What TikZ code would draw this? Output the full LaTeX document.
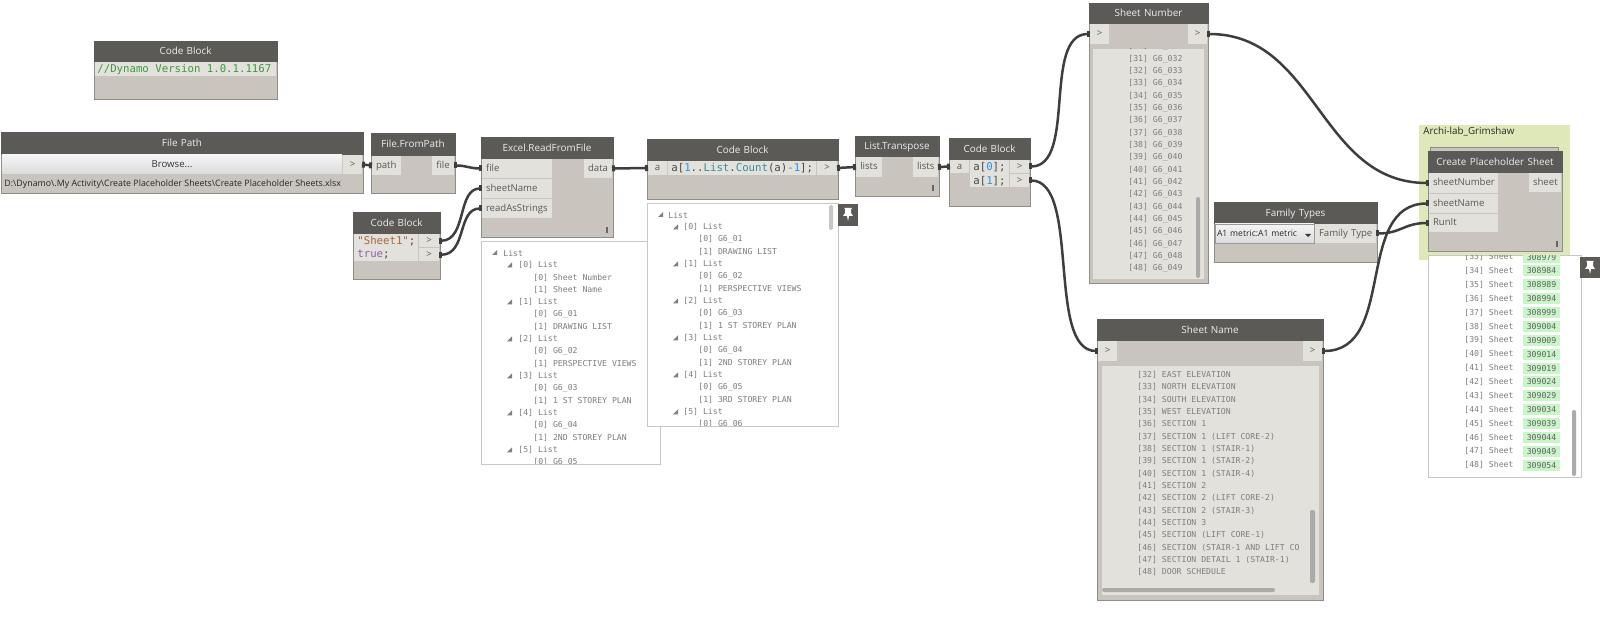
\documentclass[tikz,border=0pt]{standalone}
\usepackage{fontspec}
\setmainfont{Open Sans}
\setmonofont{DejaVu Sans Mono}
\usetikzlibrary{arrows.meta}

\definecolor{headgrey}{HTML}{5C5A57}
\definecolor{bodygrey}{HTML}{C9C5BE}
\definecolor{edgegrey}{HTML}{8F8D87}
\definecolor{portgrey}{HTML}{E3E1DC}
\definecolor{wiregrey}{HTML}{3E3E3E}
\definecolor{watchtext}{HTML}{7E7E7E}
\definecolor{groupgreen}{HTML}{DFE8B9}
\definecolor{valuegreen}{HTML}{C9F5C9}
\definecolor{codegreen}{HTML}{3C9A3C}
\definecolor{codebrown}{HTML}{A5683C}
\definecolor{codepurple}{HTML}{8C5FAE}
\definecolor{codeblue}{HTML}{2F90E0}
\definecolor{codeteal}{HTML}{3A8E9C}

% box given by its corners in reference pixels
\newcommand{\pxbox}[7]{\node[#1,anchor=north west,outer sep=0pt,inner xsep=2pt,inner ysep=0pt,
	minimum height={(#6-#4)*0.5},text width={(#5-#3)*0.5-4}] (#2) at (#3,#4) {#7};}
% node body and title bar
\newcommand{\dynbox}[7]{\pxbox{bodybox}{#1}{#2}{#3}{#4}{#5}{}
	\pxbox{headbox}{#1head}{#2}{#3}{#4}{#6}{#7}}
% pin button of a preview
\newcommand{\pinmark}[2]{\fill[white] (#1-4,#2-6) -- (#1+4,#2-6) -- (#1+3,#2-5) -- (#1+3,#2-1) -- (#1+5,#2+2)
	-- (#1+1,#2+2) -- (#1,#2+7) -- (#1-1,#2+2) -- (#1-5,#2+2) -- (#1-3,#2-1) -- (#1-3,#2-5) -- cycle;}

\tikzset{
	bodybox/.style={draw=edgegrey,fill=bodygrey,line width=0.5pt},
	headbox/.style={draw=headgrey,line width=0.5pt,fill=headgrey,text=white!93!black,align=center,
		font=\fontsize{4.95}{6}\selectfont,text height=3.8pt,text depth=1pt},
	portbox/.style={fill=portgrey,text=black!65,align=left,font=\fontsize{4.8}{6}\selectfont,
		text height=3.8pt,text depth=1pt},
	portmid/.style={portbox,align=center},
	buttonbox/.style={portbox,top color=white!96!black,bottom color=black!14,text=black!80},
	codebox/.style={fill=portgrey},
	codetext/.style={anchor=west,inner sep=0pt,text=black!72,font=\ttfamily\fontsize{5.35}{6}\selectfont},
	watchbox/.style={draw=black!22,fill=white,line width=0.5pt},
	innerbox/.style={fill=portgrey},
	listtext/.style={anchor=west,inner sep=0pt,text=watchtext,font=\ttfamily\fontsize{4.08}{5}\selectfont},
	scrollbar/.style={fill=black!33,rounded corners=1pt},
	wire/.style={draw=wiregrey,line width=1.25pt,{Square[length=1.5pt,width=3pt]}-{Square[length=1.5pt,width=3pt]}},
}

\begin{document}
\begin{tikzpicture}[x=0.5pt,y=-0.5pt]
	\useasboundingbox (0,0) rectangle (1600,641);
	
	% Version note
	\dynbox{version}{94}{42}{277}{100}{62}{Code Block}
	\pxbox{codebox}{versionrow}{95}{62}{276}{76}{}
	\node[codetext,text=codegreen] (versiontext) at (97,69.5) {//Dynamo Version 1.0.1.1167};
	
	% File path input
	\dynbox{filepath}{1}{133}{363}{194}{155}{File Path}
	\pxbox{buttonbox,align=center}{browse}{2}{155}{342}{174}{Browse...}
	\pxbox{portmid}{filepathout}{343}{155}{362}{174}{>}
	\node[anchor=west,inner sep=0pt,text=black!85,font=\fontsize{4.42}{6}\selectfont] (pathtext) at (4,184.5)
		{D:\textbackslash Dynamo\textbackslash .My Activity\textbackslash Create Placeholder Sheets\textbackslash Create Placeholder Sheets.xlsx};
	
	\dynbox{frompath}{371}{134}{455}{194}{156}{File.FromPath}
	\pxbox{portbox}{frompathin}{372}{156}{401}{175}{path}
	\pxbox{portmid}{frompathout}{432}{156}{454}{175}{file}
	
	% Sheet name and flag
	\dynbox{inputs}{353}{213}{440}{280}{234}{Code Block}
	\pxbox{codebox}{inputsrow}{354}{234}{418}{261}{}
	\pxbox{portmid}{inputsouta}{419}{234}{439}{247.5}{>}
	\pxbox{portmid}{inputsoutb}{419}{248.5}{439}{261}{>}
	\node[codetext,text=codebrown] (inputsa) at (357,241) {"Sheet1"\textcolor{black!72}{;}};
	\node[codetext,text=codepurple] (inputsb) at (357,254.5) {true\textcolor{black!72}{;}};
	
	% Preview under the excel node
	\pxbox{watchbox}{watchexcel}{481}{242}{660}{464}{}
	\begin{scope}
		\clip (481,242) rectangle (660,463);
		\foreach \lev/\txt [count=\n from 0] in {0/List,1/{[0] List},2/{[0] Sheet Number},2/{[1] Sheet Name},
			1/{[1] List},2/{[0] G6\_01},2/{[1] DRAWING LIST},1/{[2] List},2/{[0] G6\_02},2/{[1] PERSPECTIVE VIEWS},
			1/{[3] List},2/{[0] G6\_03},2/{[1] 1 ST STOREY PLAN},1/{[4] List},2/{[0] G6\_04},2/{[1] 2ND STOREY PLAN},
			1/{[5] List},2/{[0] G6\_05}}
		{
			\node[listtext] (watchexcel\n) at (503+\lev*15,253+\n*12.33) {\txt};
			\ifnum\lev<2
			\fill[black!50] (492+\lev*15,255+\n*12.33) -- ++(5,0) -- ++(0,-5) -- cycle;
			\fi
		}
	\end{scope}
	
	% Excel reader
	\dynbox{excel}{481}{138}{613}{238}{159}{Excel.ReadFromFile}
	\pxbox{portbox}{excelfile}{482}{159}{552}{178}{file}
	\pxbox{portbox}{excelsheet}{482}{179}{552}{198}{sheetName}
	\pxbox{portbox}{excelread}{482}{199}{552}{218}{readAsStrings}
	\pxbox{portmid}{exceldata}{584}{159}{612}{178}{data}
	
	% Slice of the rows
	\dynbox{slice}{647}{140}{838}{200}{161}{Code Block}
	\pxbox{portmid}{slicein}{648}{161}{667}{175}{a}
	\pxbox{codebox}{slicerow}{668}{161}{816}{175}{}
	\pxbox{portmid}{sliceout}{817}{161}{837}{175}{>}
	\node[codetext] (slicetext) at (671,168.5) {a[\textcolor{codeblue}{1}..\textcolor{codeteal}{List}.\textcolor{codeteal}{Count}(a)\textcolor{codeblue}{-1}];};
	
	% Preview under the slice
	\pxbox{watchbox}{watchslice}{647}{204}{838}{426}{}
	\begin{scope}
		\clip (647,204) rectangle (838,425);
		\foreach \lev/\txt [count=\n from 0] in {0/List,1/{[0] List},2/{[0] G6\_01},2/{[1] DRAWING LIST},
			1/{[1] List},2/{[0] G6\_02},2/{[1] PERSPECTIVE VIEWS},1/{[2] List},2/{[0] G6\_03},2/{[1] 1 ST STOREY PLAN},
			1/{[3] List},2/{[0] G6\_04},2/{[1] 2ND STOREY PLAN},1/{[4] List},2/{[0] G6\_05},2/{[1] 3RD STOREY PLAN},
			1/{[5] List},2/{[0] G6\_06}}
		{
			\node[listtext] (watchslice\n) at (668+\lev*15,215+\n*12.33) {\txt};
			\ifnum\lev<2
			\fill[black!50] (658+\lev*15,217+\n*12.33) -- ++(5,0) -- ++(0,-5) -- cycle;
			\fi
		}
	\end{scope}
	\fill[scrollbar,black!22] (829,205) rectangle (833,230);
	\pxbox{fill=headgrey}{pinslice}{838}{204}{858}{226}{}
	\pinmark{848}{214}
	
	% Transpose
	\dynbox{transpose}{855}{137}{939}{197}{157}{List.Transpose}
	\pxbox{portmid}{transposein}{856}{157}{882}{177}{lists}
	\pxbox{portmid}{transposeout}{913}{157}{938}{177}{lists}
	
	% Split into the two columns
	\dynbox{split}{949}{139}{1030}{207}{160}{Code Block}
	\pxbox{portmid}{splitin}{950}{160}{969}{173}{a}
	\pxbox{codebox}{splitrow}{970}{160}{1009}{187}{}
	\pxbox{portmid}{splitouta}{1010}{160}{1029}{173}{>}
	\pxbox{portmid}{splitoutb}{1010}{174}{1029}{187}{>}
	\node[codetext] (splita) at (973,167) {a[\textcolor{codeblue}{0}];};
	\node[codetext] (splitb) at (973,181) {a[\textcolor{codeblue}{1}];};
	
	% Sheet numbers
	\dynbox{sheetno}{1089}{4}{1208}{284}{24}{Sheet Number}
	\pxbox{portmid}{sheetnoin}{1090}{24}{1109}{44}{>}
	\pxbox{portmid}{sheetnoout}{1188}{24}{1207}{44}{>}
	\pxbox{innerbox}{sheetnolist}{1093}{49}{1204}{279}{}
	\begin{scope}
		\clip (1093,49) rectangle (1204,279);
		\foreach \i in {30,...,48}
		{
			\pgfmathtruncatemacro{\num}{\i+1}
			\node[listtext] (sheetno\i) at (1128,59+\i*12.33-31*12.33) {[\i] G6\_0\num};
		}
	\end{scope}
	\fill[scrollbar] (1196,197) rectangle (1200,278);
	
	% Sheet names
	\dynbox{sheetname}{1097}{320}{1323}{600}{341}{Sheet Name}
	\pxbox{portmid}{sheetnamein}{1098}{341}{1117}{361}{>}
	\pxbox{portmid}{sheetnameout}{1303}{341}{1322}{361}{>}
	\pxbox{innerbox}{sheetnamelist}{1102}{366}{1319}{595}{}
	\foreach \txt [count=\n from 32] in {EAST ELEVATION,NORTH ELEVATION,SOUTH ELEVATION,WEST ELEVATION,SECTION 1,
		SECTION 1 (LIFT CORE-2),SECTION 1 (STAIR-1),SECTION 1 (STAIR-2),SECTION 1 (STAIR-4),SECTION 2,
		SECTION 2 (LIFT CORE-2),SECTION 2 (STAIR-3),SECTION 3,SECTION (LIFT CORE-1),SECTION (STAIR-1 AND LIFT CO,
		SECTION DETAIL 1 (STAIR-1),DOOR SCHEDULE}
	{
		\node[listtext] (sheetname\n) at (1137,375+\n*12.33-32*12.33) {[\n] \txt};
	}
	\fill[scrollbar] (1310,510) rectangle (1315,583);
	\fill[scrollbar] (1102,588) rectangle (1275,592);
	
	% Family type
	\dynbox{family}{1214}{203}{1377}{263}{224}{Family Types}
	\pxbox{buttonbox,draw=black!40,line width=0.4pt,text=black!85,font=\fontsize{4.3}{6}\selectfont}{familydrop}{1215}{224}{1314}{243}{\mbox{\hspace*{-1pt}A1 metric:A1 metric}}
	\pxbox{portbox}{familyout}{1315}{224}{1376}{243}{\mbox{Family Type}}
	\fill[black!80] (1305,234) -- ++(6,0) -- ++(-3,3) -- cycle;
	
	% Custom node group
	\pxbox{fill=groupgreen,draw=none}{group}{1419}{125}{1570}{260}{}
	\node[anchor=west,inner sep=0pt,text=black!85,font=\fontsize{4.9}{6}\selectfont] (grouptitle) at (1423,132) {Archi-lab\_Grimshaw};
	\pxbox{bodybox}{placerback}{1430}{148}{1558}{156}{}
	\dynbox{placer}{1428}{152}{1562}{252}{173}{Create Placeholder Sheet}
	\pxbox{portbox}{placernum}{1429}{173}{1498}{193}{sheetNumber}
	\pxbox{portbox}{placername}{1429}{194}{1498}{213}{sheetName}
	\pxbox{portbox}{placerrun}{1429}{214}{1498}{232}{RunIt}
	\pxbox{portmid}{placerout}{1529}{173}{1561}{192}{sheet}
	
	% Preview of the created sheets
	\pxbox{watchbox}{watchplacer}{1428}{256}{1581}{477}{}
	\begin{scope}
		\clip (1428,256) rectangle (1581,477);
		\foreach \i in {33,...,48}
		{
			\pgfmathtruncatemacro{\val}{8984+5*(\i-34)}
			\fill[valuegreen] (1523,265.5+\i*13.87-34*13.87) rectangle (1560,276.5+\i*13.87-34*13.87);
			\node[listtext] (placer\i) at (1464,271+\i*13.87-34*13.87) {[\i] Sheet};
			\node[listtext,anchor=center,text=black!62] (value\i) at (1541.5,271+\i*13.87-34*13.87) {30\val};
		}
	\end{scope}
	\fill[scrollbar] (1572,410) rectangle (1576,476);
	\pxbox{fill=headgrey}{pinplacer}{1580}{257}{1600}{278}{}
	\pinmark{1590}{267}
	
	% Resize grips
	\foreach \x/\y in {607/230,933/188,1557/244}
	{
		\draw[black!60,line width=0.6pt] (\x,\y-3) -- (\x,\y+3);
	}
	
	% Wires
	\draw[wire] (filepathout.east) -- (frompathin.west);
	\draw[wire] (frompathout.east) .. controls +(12,0) and +(-12,0) .. (excelfile.west);
	\draw[wire] (inputsouta.east) .. controls +(28,0) and +(-25,0) .. (excelsheet.west);
	\draw[wire] (inputsoutb.east) .. controls +(28,0) and +(-25,0) .. (excelread.west);
	\draw[wire] (exceldata.east) -- (slicein.west);
	\draw[wire] (sliceout.east) -- (transposein.west);
	\draw[wire] (transposeout.east) -- (splitin.west);
	\draw[wire] (splitouta.east) .. controls +(48,0) and +(-48,0) .. (sheetnoin.west);
	\draw[wire] (splitoutb.east) .. controls +(52,0) and +(-52,0) .. (sheetnamein.west);
	\draw[wire] (sheetnoout.east) .. controls +(110,0) and +(-110,0) .. (placernum.west);
	\draw[wire] (sheetnameout.east) .. controls +(75,0) and +(-75,0) .. (placername.west);
	\draw[wire] (familyout.east) .. controls +(25,0) and +(-25,0) .. (placerrun.west);
\end{tikzpicture}
\end{document}
